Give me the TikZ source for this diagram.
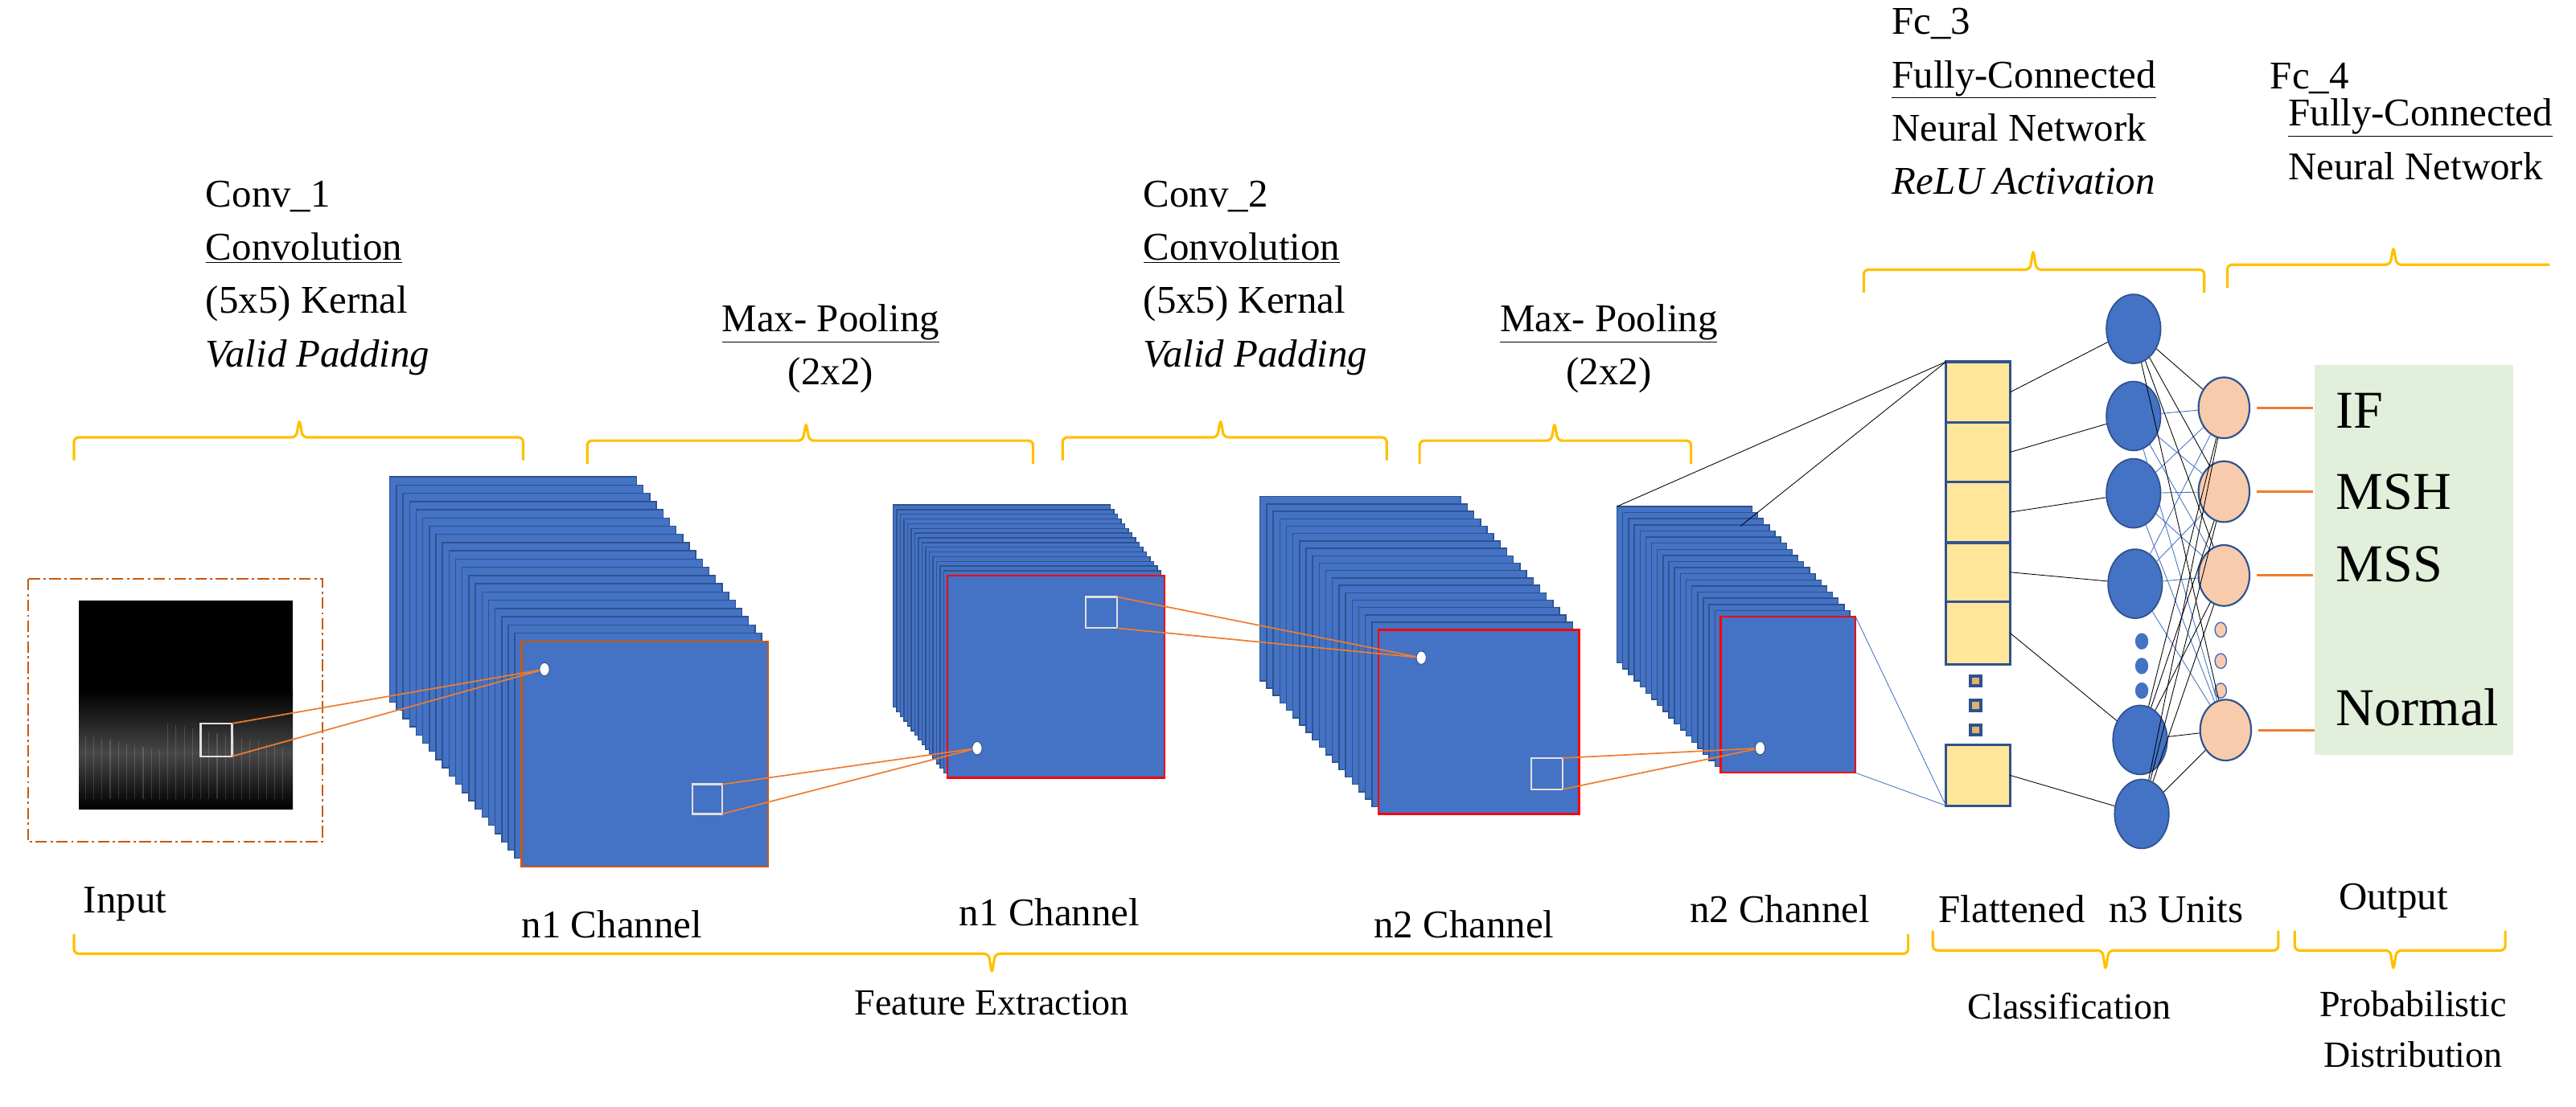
\documentclass[tikz,border=0pt]{standalone}
\usepackage{fontspec}
\setmainfont{Liberation Serif}
\usetikzlibrary{calc,shapes.geometric}
\definecolor{cblue}{HTML}{4472C4}
\definecolor{cdark}{HTML}{2F528F}
\definecolor{cyel}{HTML}{FFC000}
\definecolor{cora}{HTML}{ED7D31}
\definecolor{cred}{HTML}{C55A11}
\definecolor{cfl}{HTML}{FFE699}
\definecolor{cpeach}{HTML}{F8CBAD}
\definecolor{cgreen}{HTML}{E2EFDA}
\begin{document}
\begin{tikzpicture}[x=0.5mm,y=-0.5mm,
  txt/.style={font=\fontsize{34}{46}\selectfont, inner sep=0pt},
  sm/.style={font=\fontsize{32}{44}\selectfont, inner sep=0pt},
  lbl/.style={txt, align=left, anchor=north west},
  big/.style={font=\fontsize{46}{50}\selectfont, inner sep=0pt, anchor=west},
  brace/.style={cyel, line width=2.2pt, rounded corners=4pt},
  layer/.style={fill=cblue, draw=cdark, line width=1pt},
  olink/.style={cora, line width=1.2pt},
  sq/.style={draw=white!88!black, line width=1.6pt},
  hid/.style={ellipse, fill=cblue, draw=cdark, line width=1.2pt, minimum width=33*0.5mm, minimum height=42*0.5mm, inner sep=0pt},
  outn/.style={ellipse, fill=cpeach, draw=cdark, line width=1.5pt, minimum width=31*0.5mm, minimum height=37*0.5mm, inner sep=0pt},
  fl/.style={fill=cfl, draw=cdark, line width=2.4pt},
  wire/.style={black, line width=0.6pt},
  bwire/.style={cblue, line width=0.6pt}]
\useasboundingbox (0,0) rectangle (1566,673);
% ---------- input ----------
\draw[cred, line width=1.5pt, dash pattern=on 10pt off 3pt on 2pt off 3pt] (17,352) rectangle (196,512);
\fill[black] (48,365) rectangle (178,492);
\shade[top color=black, bottom color=white!28!black] (48,420) rectangle (178,458);
\shade[top color=white!28!black, bottom color=black] (48,458) rectangle (178,492);
\foreach \x in {52,57,...,176}{\draw[white, opacity=0.15, line width=0.8pt] (\x,{440+mod(\x*7,17)}) -- (\x,486);}
\draw[sq] (122,440) rectangle (141,460);
% ---------- stacks ----------
\foreach \i in {0,...,19}{
  \pgfmathsetmacro{\xx}{237+80*\i/20}\pgfmathsetmacro{\yy}{290+100*\i/20}
  \draw[layer] (\xx,\yy) rectangle ++(150,137);}
\draw[fill=cblue, draw=cred, line width=1.6pt] (317,390) rectangle (467,527);
\draw[sq] (421,477) rectangle (439,495);
\coordinate (d1) at (331,407);
\foreach \i in {0,...,14}{
  \pgfmathsetmacro{\xx}{543+33*\i/15}\pgfmathsetmacro{\yy}{307+43*\i/15}
  \draw[layer] (\xx,\yy) rectangle ++(132,123);}
\draw[fill=cblue, draw=red, line width=1.6pt] (576,350) rectangle (708,473);
\draw[sq] (660,363) rectangle (679,382);
\coordinate (d2) at (594,455);
\foreach \i in {0,...,17}{
  \pgfmathsetmacro{\xx}{766+72*\i/18}\pgfmathsetmacro{\yy}{302+81*\i/18}
  \draw[layer] (\xx,\yy) rectangle ++(122,112);}
\draw[fill=cblue, draw=red, line width=1.6pt] (838,383) rectangle (960,495);
\draw[sq] (931,461) rectangle (950,480);
\coordinate (d3) at (864,400);
\foreach \i in {0,...,17}{
  \pgfmathsetmacro{\xx}{983+63*\i/18}\pgfmathsetmacro{\yy}{308+67*\i/18}
  \draw[layer] (\xx,\yy) rectangle ++(82,95);}
\draw[fill=cblue, draw=red, line width=1.6pt] (1046,375) rectangle (1128,470);
\coordinate (d4) at (1070,455);
% orange links
\draw[olink] (141,440) -- (d1) -- (141,460);
\draw[olink] (439,477) -- (d2) -- (439,495);
\draw[olink] (679,363) -- (d3) -- (679,382);
\draw[olink] (950,461) -- (d4) -- (950,480);
\foreach \d in {d1,d2,d3,d4}{\fill[white, draw=cdark, line width=0.6pt] (\d) ellipse (3 and 4);}
% ---------- flattened ----------
\foreach \n/\a/\b in {f1/220/257,f2/257/293,f3/293/330,f4/330/366,f5/366/404,f6/453/490}{
  \draw[fl] (1183,\a) rectangle (1222,\b);
  \coordinate (\n) at (1222,{(\a+\b)/2});}
\draw[fl, line width=1.5pt] (1183,453) rectangle (1222,490);
\foreach \y in {410,425,440}{\fill[cdark] (1197,\y) rectangle ++(8,8); \fill[cfl!50!brown] (1199,\y+2) rectangle ++(4,4);}
\coordinate (ft) at (1183,220); \coordinate (fb) at (1183,490);
\draw[wire] (983,308) -- (ft); \draw[wire] (1058,320) -- (ft);
\draw[bwire] (1128,375) -- (fb); \draw[bwire] (1128,470) -- (fb);
% ---------- neurons ----------
\node[hid] (h1) at (1297,200) {};
\node[hid] (h2) at (1297,253) {};
\node[hid] (h3) at (1297,300) {};
\node[hid] (h4) at (1298,355) {};
\node[hid] (h5) at (1301,450) {};
\node[hid] (h6) at (1302,495) {};
\foreach \y in {390,405,420}{\fill[cblue] (1302,\y) ellipse (4 and 5);}
\node[outn] (o1) at (1352,248) {};
\node[outn] (o2) at (1352,299) {};
\node[outn] (o3) at (1352,350) {};
\node[outn] (o4) at (1353,444) {};
\foreach \y in {383,402,420}{\draw[cblue, line width=1pt, fill=cpeach] (1350,\y) ellipse (3.5 and 4.5);}
\foreach \f/\h in {f1/h1,f2/h2,f3/h3,f4/h4,f5/h5,f6/h6}{\draw[wire] (\f) -- (\h);}
\foreach \h in {h2,h3,h4}{\foreach \o in {o1,o2,o3,o4}{\draw[bwire] (\h) -- (\o);}}
\foreach \h in {h1,h5,h6}{\foreach \o in {o1,o2,o3,o4}{\draw[wire] (\h) -- (\o);}}
% ---------- output ----------
\fill[cgreen] (1407,222) rectangle (1528,459);
\foreach \o/\lab/\y in {o1/IF/250,o2/MSH/299,o3/MSS/343,o4/Normal/430}{
  \node[big] (t\o) at (1420,\y) {\lab};
  \draw[cora, line width=2pt] ($(\o.east)+(4,0)$) -- ++(34,0);}
% ---------- braces ----------
\draw[brace] (45,280) -- (45,266) -- (180,266) -- (182,255) -- (184,266) -- (318,266) -- (318,280);
\draw[brace] (357,282) -- (357,268) -- (488,268) -- (490,257) -- (492,268) -- (628,268) -- (628,282);
\draw[brace] (646,280) -- (646,266) -- (740,266) -- (742,255) -- (744,266) -- (843,266) -- (843,280);
\draw[brace] (863,282) -- (863,268) -- (943,268) -- (945,257) -- (947,268) -- (1028,268) -- (1028,282);
\draw[brace] (1133,178) -- (1133,164) -- (1234,164) -- (1236,152) -- (1238,164) -- (1340,164) -- (1340,178);
\draw[brace] (1354,175) -- (1354,161) -- (1453,161) -- (1455,150) -- (1457,161) -- (1550,161);
\draw[brace] (45,568) -- (45,580) -- (601,580) -- (603,592) -- (605,580) -- (1160,580) -- (1160,568);
\draw[brace] (1175,566) -- (1175,578) -- (1278,578) -- (1280,590) -- (1282,578) -- (1385,578) -- (1385,566);
\draw[brace] (1395,566) -- (1395,578) -- (1453,578) -- (1455,590) -- (1457,578) -- (1523,578) -- (1523,566);
% ---------- texts ----------
\node[lbl] (c1) at (125,110) {Conv\_1\\\underline{Convolution}\\(5x5) Kernal\\\textit{Valid Padding}};
\node[lbl] (c2) at (695,110) {Conv\_2\\\underline{Convolution}\\(5x5) Kernal\\\textit{Valid Padding}};
\node[txt, align=center, anchor=north] (p1) at (505,185) {\underline{Max- Pooling}\\(2x2)};
\node[txt, align=center, anchor=north] (p2) at (978,185) {\underline{Max- Pooling}\\(2x2)};
\node[lbl] (fc3) at (1150,5) {Fc\_3\\\underline{Fully-Connected}\\Neural Network\\\textit{ReLU Activation}};
\node[lbl] (fc4) at (1380,38) {Fc\_4};
\node[lbl] (fc4b) at (1391,60) {\underline{Fully-Connected}\\Neural Network};
\node[txt] (i1) at (76,550) {Input};
\node[txt] (i2) at (372,562) {n1 Channel};
\node[txt] (i3) at (638,555) {n1 Channel};
\node[txt] (i4) at (890,562) {n2 Channel};
\node[txt] (i5) at (1082,553) {n2 Channel};
\node[txt] (i6) at (1223,553) {Flattened};
\node[txt] (i7) at (1323,553) {n3 Units};
\node[txt] (i8) at (1455,548) {Output};
\node[sm] (i9) at (603,610) {Feature Extraction};
\node[sm] (i10) at (1258,612) {Classification};
\node[sm, align=center] (i11) at (1467,626) {Probabilistic\\Distribution};
\end{tikzpicture}
\end{document}
